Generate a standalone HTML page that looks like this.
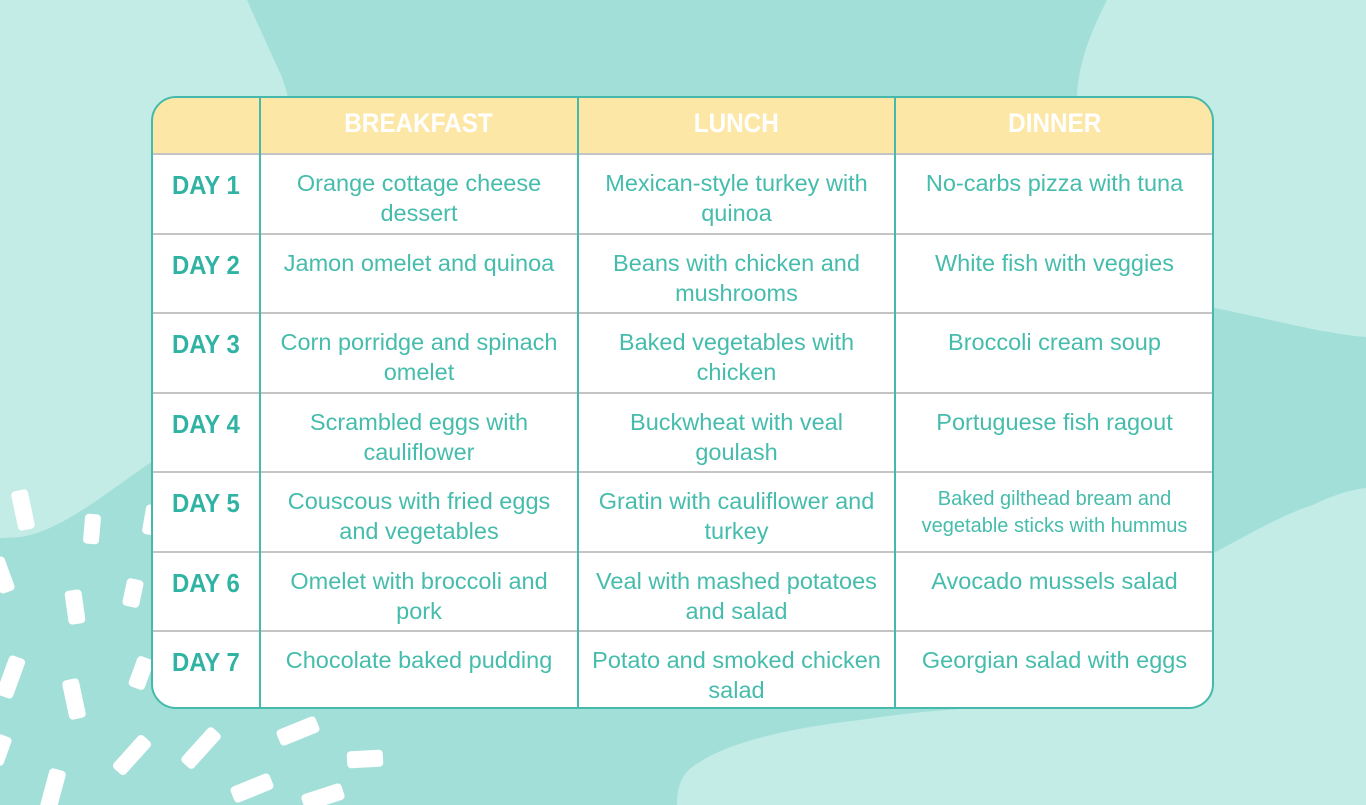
<!DOCTYPE html>
<html>
<head>
<meta charset="utf-8">
<style>
  html,body{margin:0;padding:0;}
  body{width:1366px;height:805px;position:relative;overflow:hidden;background:#a3dfd9;font-family:"Liberation Sans",sans-serif;}
  svg{position:absolute;left:0;top:0;}
  .c{position:absolute;text-align:center;white-space:nowrap;}
  .hd{top:108px;font-size:27px;line-height:30px;font-weight:bold;color:#ffffff;}
  .hd span,.day span{display:inline-block;transform:scaleX(0.9);}
  .day{left:151px;width:109px;font-size:26px;line-height:30px;font-weight:bold;color:#30b3a3;}
  .day span{transform:scaleX(0.92);}
  .t{font-size:23.5px;line-height:30px;color:#45bcac;}
  .b{left:260px;width:318px;}
  .l{left:578px;width:317px;}
  .d{left:895px;width:319px;}
  .sm{font-size:20px;line-height:26.5px;}
</style>
</head>
<body>
<svg width="1366" height="805" viewBox="0 0 1366 805">
  <defs>
    <clipPath id="tbl"><rect x="152" y="97" width="1061" height="611" rx="24" ry="24"/></clipPath>
  </defs>
  <rect x="0" y="0" width="1366" height="805" fill="#a3dfd9"/>
  <!-- light shapes -->
  <path d="M0,0 H247 C258,25 272,55 281,75 C286,88 290,100 292,130 L300,300 C290,400 220,440 150,463 C110,490 60,532 20,537 L0,538 Z" fill="#c4ece7"/>
  <path d="M1107,0 C1092,30 1079,60 1077,95 L1100,250 C1150,290 1190,302 1215,308 C1240,313 1270,320 1317,330 C1335,333 1350,336 1366,337 V0 Z" fill="#c4ece7"/>
  <path d="M1200,560 C1240,540 1280,515 1313,505 C1330,496 1350,490 1366,488 V805 H677 C677,790 680,772 700,762 C730,742 790,728 860,720 C900,714 930,711 960,709 L1200,700 Z" fill="#c4ece7"/>
  <!-- white marks -->
  <g fill="#ffffff">
    <rect x="-8.5" y="-20" width="17" height="40" rx="4" transform="translate(23,510) rotate(-12)"/>
    <rect x="-8" y="-15" width="16" height="30" rx="4" transform="translate(92,529) rotate(5)"/>
    <rect x="-8" y="-18" width="16" height="36" rx="4" transform="translate(2,575) rotate(-20)"/>
    <rect x="-8.5" y="-17" width="17" height="34" rx="4" transform="translate(75,607) rotate(-8)"/>
    <rect x="-8.5" y="-14" width="17" height="28" rx="4" transform="translate(133,593) rotate(12)"/>
    <rect x="-8.5" y="-21" width="17" height="42" rx="4" transform="translate(11,677) rotate(20)"/>
    <rect x="-8.5" y="-20" width="17" height="40" rx="4" transform="translate(74,699) rotate(-12)"/>
    <rect x="-8.5" y="-16" width="17" height="32" rx="4" transform="translate(141,673) rotate(20)"/>
    <rect x="-8.5" y="-21" width="17" height="42" rx="4" transform="translate(53,790) rotate(15)"/>
    <rect x="-8" y="-15" width="16" height="30" rx="4" transform="translate(0,750) rotate(20)"/>
    <rect x="-8" y="-22" width="16" height="44" rx="4" transform="translate(132,755) rotate(42)"/>
    <rect x="-8" y="-23" width="16" height="46" rx="4" transform="translate(201,748) rotate(42)"/>
    <rect x="-21" y="-8.5" width="42" height="17" rx="4" transform="translate(298,731) rotate(-22)"/>
    <rect x="-18" y="-8.5" width="36" height="17" rx="4" transform="translate(365,759) rotate(-3)"/>
    <rect x="-21" y="-8.5" width="42" height="17" rx="4" transform="translate(252,788) rotate(-22)"/>
    <rect x="-21" y="-8.5" width="42" height="17" rx="4" transform="translate(323,797) rotate(-18)"/>
    <rect x="-8" y="-15" width="16" height="30" rx="4" transform="translate(152,520) rotate(10)"/>
  </g>
  <!-- table -->
  <rect x="152" y="97" width="1061" height="611" rx="24" ry="24" fill="#ffffff"/>
  <g clip-path="url(#tbl)">
    <rect x="150" y="95" width="1066" height="59" fill="#fde7a6"/>
    <g fill="#c4c4c4">
      <rect x="150" y="153" width="1066" height="2"/>
      <rect x="150" y="233" width="1066" height="2"/>
      <rect x="150" y="312" width="1066" height="2"/>
      <rect x="150" y="392" width="1066" height="2"/>
      <rect x="150" y="471" width="1066" height="2"/>
      <rect x="150" y="551" width="1066" height="2"/>
      <rect x="150" y="630" width="1066" height="2"/>
    </g>
    <g fill="#45b9ab">
      <rect x="259" y="95" width="2" height="615"/>
      <rect x="577" y="95" width="2" height="615"/>
      <rect x="894" y="95" width="2" height="615"/>
    </g>
  </g>
  <rect x="152" y="97" width="1061" height="611" rx="24" ry="24" fill="none" stroke="#45b9ab" stroke-width="2"/>
</svg>

<!-- header -->
<div class="c hd b"><span>BREAKFAST</span></div>
<div class="c hd l"><span>LUNCH</span></div>
<div class="c hd d"><span>DINNER</span></div>

<!-- row 1 -->
<div class="c day" style="top:170px"><span>DAY 1</span></div>
<div class="c t b" style="top:168px">Orange cottage cheese<br>dessert</div>
<div class="c t l" style="top:168px">Mexican-style turkey with<br>quinoa</div>
<div class="c t d" style="top:168px">No-carbs pizza with tuna</div>

<!-- row 2 -->
<div class="c day" style="top:250px"><span>DAY 2</span></div>
<div class="c t b" style="top:248px">Jamon omelet and quinoa</div>
<div class="c t l" style="top:248px">Beans with chicken and<br>mushrooms</div>
<div class="c t d" style="top:248px">White fish with veggies</div>

<!-- row 3 -->
<div class="c day" style="top:329px"><span>DAY 3</span></div>
<div class="c t b" style="top:327px">Corn porridge and spinach<br>omelet</div>
<div class="c t l" style="top:327px">Baked vegetables with<br>chicken</div>
<div class="c t d" style="top:327px">Broccoli cream soup</div>

<!-- row 4 -->
<div class="c day" style="top:409px"><span>DAY 4</span></div>
<div class="c t b" style="top:407px">Scrambled eggs with<br>cauliflower</div>
<div class="c t l" style="top:407px">Buckwheat with veal<br>goulash</div>
<div class="c t d" style="top:407px">Portuguese fish ragout</div>

<!-- row 5 -->
<div class="c day" style="top:488px"><span>DAY 5</span></div>
<div class="c t b" style="top:486px">Couscous with fried eggs<br>and vegetables</div>
<div class="c t l" style="top:486px">Gratin with cauliflower and<br>turkey</div>
<div class="c t d sm" style="top:486px">Baked gilthead bream and<br>vegetable sticks with hummus</div>

<!-- row 6 -->
<div class="c day" style="top:568px"><span>DAY 6</span></div>
<div class="c t b" style="top:566px">Omelet with broccoli and<br>pork</div>
<div class="c t l" style="top:566px">Veal with mashed potatoes<br>and salad</div>
<div class="c t d" style="top:566px">Avocado mussels salad</div>

<!-- row 7 -->
<div class="c day" style="top:647px"><span>DAY 7</span></div>
<div class="c t b" style="top:645px">Chocolate baked pudding</div>
<div class="c t l" style="top:645px">Potato and smoked chicken<br>salad</div>
<div class="c t d" style="top:645px">Georgian salad with eggs</div>
</body>
</html>
